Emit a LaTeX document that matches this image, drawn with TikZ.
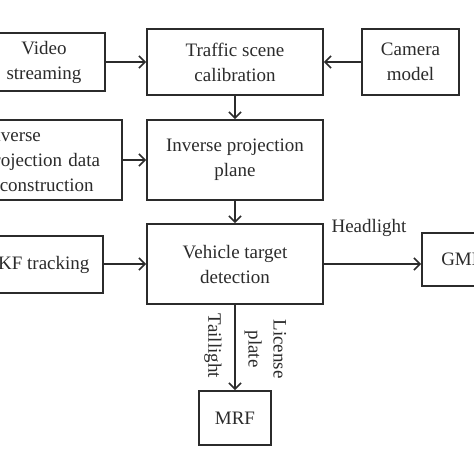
\documentclass[tikz,border=0pt]{standalone}
\usepackage{fontspec}
\setmainfont{Liberation Serif}
\usetikzlibrary{arrows.meta}
\definecolor{ink}{HTML}{2B2B2B}
\tikzset{
  box/.style={draw=ink, text=ink, line width=1.8pt, inner sep=0pt, align=center,
    font=\fontsize{19}{25}\selectfont},
  lbl/.style={text=ink, inner sep=0pt, align=center, font=\fontsize{19}{25}\selectfont},
  arr/.style={draw=ink, line width=1.8pt, -{Straight Barb[length=6pt,width=12pt,line width=1.6pt]}}
}
\begin{document}
\begin{tikzpicture}[x=1pt,y=-1pt]
\useasboundingbox (0,0) rectangle (474,474);
\clip (0,0) rectangle (474,474);
\fill[white] (0,0) rectangle (474,474);
\node[box, minimum width=122pt, minimum height=58pt] (video) at (44,62) {Video\\streaming};
\node[box, minimum width=176pt, minimum height=66pt] (traffic) at (235,62) {Traffic scene\\calibration};
\node[box, minimum width=97pt, minimum height=66pt] (camera) at (410.5,62) {Camera\\model};
\node[box, minimum width=152pt, text width=122pt, inner xsep=15pt, align=left, minimum height=80pt] (invdata) at (46,160) {Inverse\\projection data\\reconstruction};
\node[box, minimum width=176pt, minimum height=80pt] (plane) at (235,160) {Inverse projection\\plane};
\node[box, minimum width=176pt, minimum height=80pt] (vehicle) at (235,264) {Vehicle target\\detection};
\node[box, minimum width=130pt, minimum height=57pt] (ekf) at (38,264.5) {EKF tracking};
\node[box, minimum width=86pt, minimum height=53pt] (gmm) at (465,259.5) {GMM};
\node[box, minimum width=72pt, minimum height=54pt] (mrf) at (235,418) {MRF};
\draw[arr] (video.east) -- (video.east -| traffic.west);
\draw[arr] (camera.west |- video.east) -- (traffic.east |- video.east);
\draw[arr] (traffic.south) -- (plane.north);
\draw[arr] (invdata.east) -- (plane.west);
\draw[arr] (plane.south) -- (vehicle.north);
\draw[arr] (ekf.east |- vehicle.west) -- (vehicle.west);
\draw[arr] (vehicle.east) -- (vehicle.east -| gmm.west);
\draw[arr] (vehicle.south) -- (mrf.north);
\node[lbl] (head) at (369,228) {Headlight};
\node[lbl, rotate=-90] (tail) at (213,346) {Taillight};
\node[lbl, rotate=-90] (plate) at (265.5,349) {License\\plate};
\end{tikzpicture}
\end{document}
